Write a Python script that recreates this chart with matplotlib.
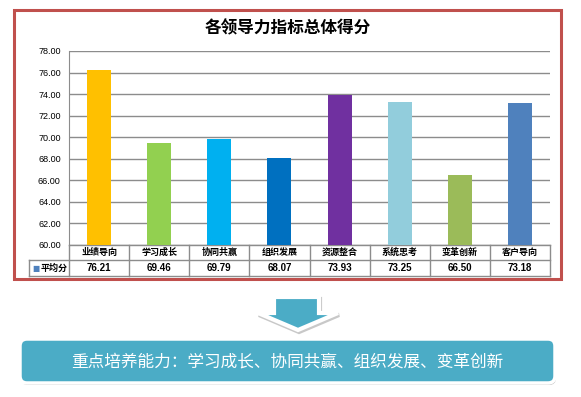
import matplotlib
matplotlib.use("Agg")
import matplotlib.pyplot as plt
import matplotlib.patches as patches
import matplotlib.transforms as mtransforms

plt.rcParams['font.family'] = ['Noto Sans CJK SC', 'DejaVu Sans']

# data
categories = ['业绩导向', '学习成长', '协同共赢', '组织发展', '资源整合', '系统思考', '变革创新', '客户导向']
scores = [76.21, 69.46, 69.79, 68.07, 73.93, 73.25, 66.50, 73.18]
bar_colors = ['#FFC000', '#92D050', '#00B0F0', '#0070C0', '#7030A0', '#92CDDC', '#9BBB59', '#4F81BD']
y_ticks = [60, 62, 64, 66, 68, 70, 72, 74, 76, 78]
series_name = '平均分'
title = '各领导力指标总体得分'
conclusion = '重点培养能力：学习成长、协同共赢、组织发展、变革创新'

W, H = 581, 397
fig = plt.figure(figsize=(W / 100, H / 100), dpi=100)
fig.patch.set_facecolor('white')

# overlay axes in pixel coordinates (for frame, arrow, banner)
ov = fig.add_axes([0, 0, 1, 1], zorder=0)
ov.set_xlim(0, W)
ov.set_ylim(H, 0)
ov.axis('off')

# red chart frame
ov.add_patch(patches.Rectangle((14, 10), 547, 269, fill=False,
                               edgecolor='#C0504D', linewidth=2.2))
ov.text(288, 28, title, ha='center', va='center', fontsize=12,
        fontweight='bold', color='black')

# arrow
arrow_pts = [(274, 297), (319, 297), (319, 313), (338, 313),
             (298, 330), (258, 313), (274, 313)]
shadow = patches.Polygon([(x + 1, y + 2) for x, y in arrow_pts], closed=True,
                         facecolor='#C8C8C8', edgecolor='#C8C8C8', linewidth=3)
ov.add_patch(shadow)
ov.add_patch(patches.Polygon(arrow_pts, closed=True, facecolor='#4BACC6',
                             edgecolor='white', linewidth=3, joinstyle='miter'))

# banner
ov.add_patch(patches.FancyBboxPatch((21, 341), 535, 44,
                                    boxstyle='round,pad=0,rounding_size=7',
                                    facecolor='#BDBDBD', edgecolor='none'))
ov.add_patch(patches.FancyBboxPatch((20, 339), 535, 44,
                                    boxstyle='round,pad=0,rounding_size=7',
                                    facecolor='#4BACC6', edgecolor='white',
                                    linewidth=2.5))
ov.text(287, 362, conclusion, ha='center', va='center', fontsize=12,
        color='white')

# bar chart axes
left, right, top, bottom = 69, 550, 51, 245
ax = fig.add_axes([left / W, 1 - bottom / H, (right - left) / W, (bottom - top) / H],
                  zorder=2)
x = list(range(len(categories)))
ax.bar(x, scores, width=0.4, color=bar_colors, zorder=3)
ax.set_xlim(-0.5, len(categories) - 0.5)
ax.set_ylim(y_ticks[0], y_ticks[-1])
ax.set_yticks(y_ticks)
ax.set_yticklabels([f'{v:.2f}' for v in y_ticks], fontsize=6.5,
                   family=['Liberation Sans', 'DejaVu Sans'])
ax.yaxis.grid(True, color='#8C8C8C', linewidth=1)
ax.set_axisbelow(True)
ax.tick_params(axis='y', length=0, pad=6)
ax.tick_params(axis='x', length=0, labelbottom=False)
for side in ['top', 'right', 'bottom']:
    ax.spines[side].set_visible(False)
ax.spines['left'].set_color('#8C8C8C')

# data table below the bars
trans = mtransforms.blended_transform_factory(ax.transData, ax.transAxes)
ph = bottom - top
row1 = -15 / ph
row2 = -31 / ph
leg_left = -0.5 - 40 / ((right - left) / len(categories))
lc = '#8C8C8C'
lw = 1
n = len(categories)
# horizontal lines
ax.plot([-0.5, n - 0.5], [0, 0], color=lc, lw=lw, transform=trans, clip_on=False)
ax.plot([leg_left, n - 0.5], [row1, row1], color=lc, lw=lw, transform=trans, clip_on=False)
ax.plot([leg_left, n - 0.5], [row2, row2], color=lc, lw=lw, transform=trans, clip_on=False)
# vertical lines
ax.plot([leg_left, leg_left], [row1, row2], color=lc, lw=lw, transform=trans, clip_on=False)
for i in range(n + 1):
    ax.plot([i - 0.5, i - 0.5], [0, row2], color=lc, lw=lw, transform=trans, clip_on=False)
for i, (cat, val) in enumerate(zip(categories, scores)):
    ax.text(i, row1 / 2, cat, ha='center', va='center', fontsize=6.5,
            fontweight='bold', transform=trans, clip_on=False)
    ax.text(i, (row1 + row2) / 2, f'{val:.2f}', ha='center', va='center',
            fontsize=7, fontweight='bold', transform=trans, clip_on=False,
            family=['Liberation Sans', 'DejaVu Sans'])
ax.text(leg_left + 0.05, (row1 + row2) / 2, '■', ha='left', va='center',
        fontsize=5.5, color='#4F81BD', transform=trans, clip_on=False,
        family=['DejaVu Sans'])
ax.text(leg_left + 0.2, (row1 + row2) / 2, series_name, ha='left', va='center',
        fontsize=6.5, fontweight='bold', transform=trans, clip_on=False)

fig.savefig('out.png', dpi=100, facecolor='white')
